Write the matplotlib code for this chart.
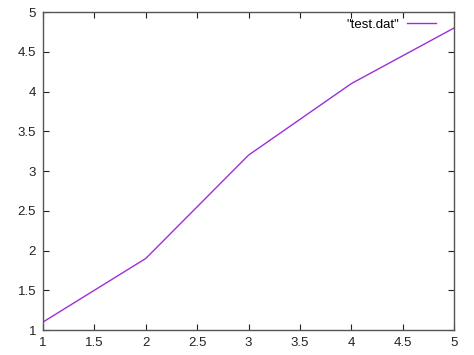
import matplotlib
matplotlib.use('Agg')
import matplotlib.pyplot as plt

plt.rcParams['font.family'] = ['Liberation Sans', 'DejaVu Sans']

x = [1, 2, 3, 4, 5]
y = [1.1, 1.9, 3.2, 4.1, 4.8]
label = '"test.dat"'

fig = plt.figure(figsize=(4.74, 3.55), dpi=100)
ax = fig.add_axes([0.0907, 0.0704, 0.8673, 0.8956])

ax.plot(x, y, color='#9b30d9', linewidth=1.0, label=label)

ax.set_xlim(1, 5)
ax.set_ylim(1, 5)
ax.set_xticks([1, 1.5, 2, 2.5, 3, 3.5, 4, 4.5, 5])
ax.set_yticks([1, 1.5, 2, 2.5, 3, 3.5, 4, 4.5, 5])
ax.set_xticklabels(['1', '1.5', '2', '2.5', '3', '3.5', '4', '4.5', '5'])
ax.set_yticklabels(['1', '1.5', '2', '2.5', '3', '3.5', '4', '4.5', '5'])
ax.tick_params(direction='in', top=True, right=True, length=4, width=0.8,
               labelsize=9.5, colors='#222222', pad=5)
for s in ax.spines.values():
    s.set_color('#555555')
    s.set_linewidth(1.0)

ax.legend(loc='upper right', frameon=False, markerfirst=False, fontsize=9.5,
          handlelength=2.2, borderaxespad=0.3, borderpad=0.2,
          handletextpad=0.6, bbox_to_anchor=(0.972, 1.0))

fig.savefig('out.png', dpi=100)
